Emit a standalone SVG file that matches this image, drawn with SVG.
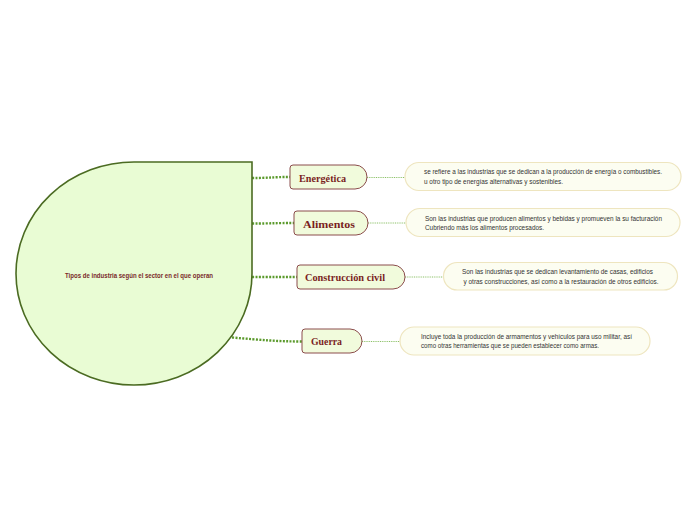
<svg xmlns="http://www.w3.org/2000/svg" width="696" height="520" viewBox="0 0 696 520">
<style>
.main{fill:#e9fcd4;stroke:#4b6b22;stroke-width:1.6}
.br{fill:#f1fbdc;stroke:#8b4c4c;stroke-width:1}
.ds{fill:#fcfdf1;stroke:#eee5bf;stroke-width:1.2}
.thick{fill:none;stroke:#5b9a2c;stroke-width:2.4;stroke-dasharray:2 1.4}
.thin{fill:none;stroke:#8cc068;stroke-width:1;stroke-dasharray:1 0.8}
.bt{font-family:"Liberation Serif","DejaVu Serif",serif;font-weight:bold;font-size:11px;fill:#7a1f1f}
.dt{font-family:"Liberation Sans","DejaVu Sans",sans-serif;font-size:7.5px;fill:#333333}
.ct{font-family:"Liberation Sans","DejaVu Sans",sans-serif;font-weight:bold;font-size:7px;fill:#7a2a2a}
</style>
<rect width="696" height="520" fill="#ffffff"/>
<g id="connectors">
<path class="thick" d="M252,178 C270,178 272,177 290,177"/>
<path class="thick" d="M252,223.5 C272,223.5 276,223 294,223"/>
<path class="thick" d="M252,277 C272,277 278,277 297,277"/>
<path class="thick" d="M232,337.5 C262,340 278,341.5 302,341.5"/>
<path class="thin" d="M367,177.5 H405"/>
<path class="thin" d="M368,223 H406"/>
<path class="thin" d="M405,277 H443.5"/>
<path class="thin" d="M362,341.5 H400"/>
</g>
<g id="center">
<path class="main" d="M134,162 H252 V273.5 A118,111.5 0 1 1 134,162 Z"/>
<text class="ct" x="139" y="278" text-anchor="middle" textLength="148" lengthAdjust="spacingAndGlyphs">Tipos de industria según el sector en el que operan</text>
</g>
<g id="energetica">
<path class="br" d="M293,165 H355 A12,12 0 0 1 355,189 H293 Q290,189 290,186 V168 Q290,165 293,165 Z"/>
<text class="bt" x="299" y="181.5" textLength="47" lengthAdjust="spacingAndGlyphs">Energética</text>
</g>
<g id="alimentos">
<path class="br" d="M297,211 H356 A12,12 0 0 1 356,235 H297 Q294,235 294,232 V214 Q294,211 297,211 Z"/>
<text class="bt" x="303" y="227.5" textLength="52" lengthAdjust="spacingAndGlyphs">Alimentos</text>
</g>
<g id="construccion">
<path class="br" d="M300,265 H393 A12,12 0 0 1 393,289 H300 Q297,289 297,286 V268 Q297,265 300,265 Z"/>
<text class="bt" x="305" y="280.5" textLength="80" lengthAdjust="spacingAndGlyphs">Construcción civil</text>
</g>
<g id="guerra">
<path class="br" d="M305,329 H350 A12,12 0 0 1 350,353 H305 Q302,353 302,350 V332 Q302,329 305,329 Z"/>
<text class="bt" x="311" y="345" textLength="31" lengthAdjust="spacingAndGlyphs">Guerra</text>
</g>
<g id="desc-energetica">
<rect class="ds" x="405" y="162.5" width="276" height="28" rx="14"/>
<text class="dt" x="424" y="174" textLength="238" lengthAdjust="spacingAndGlyphs">se refiere a las industrias que se dedican a la producción de energía o combustibles.</text>
<text class="dt" x="424" y="183.5" textLength="139" lengthAdjust="spacingAndGlyphs">u otro tipo de energías alternativas y sostenibles.</text>
</g>
<g id="desc-alimentos">
<rect class="ds" x="406" y="208.5" width="274" height="28" rx="14"/>
<text class="dt" x="425" y="220.5" textLength="237" lengthAdjust="spacingAndGlyphs">Son las industrias que producen alimentos y bebidas y promueven la su facturación</text>
<text class="dt" x="425" y="229.5" textLength="119" lengthAdjust="spacingAndGlyphs">Cubriendo más los alimentos procesados.</text>
</g>
<g id="desc-construccion">
<rect class="ds" x="443.5" y="262.5" width="234" height="27.5" rx="13.75"/>
<text class="dt" x="462" y="273.5" textLength="191" lengthAdjust="spacingAndGlyphs">Son las industrias que se dedican  levantamiento de casas, edificios</text>
<text class="dt" x="463.5" y="283.5" textLength="195" lengthAdjust="spacingAndGlyphs">y otras construcciones, así como a la restauración de otros edificios.</text>
</g>
<g id="desc-guerra">
<rect class="ds" x="400" y="327" width="250" height="28" rx="14"/>
<text class="dt" x="421" y="338.5" textLength="211" lengthAdjust="spacingAndGlyphs">Incluye toda la producción de armamentos y vehículos para uso militar, así</text>
<text class="dt" x="421" y="348" textLength="178" lengthAdjust="spacingAndGlyphs">como otras herramientas que se pueden establecer como armas.</text>
</g>
</svg>
